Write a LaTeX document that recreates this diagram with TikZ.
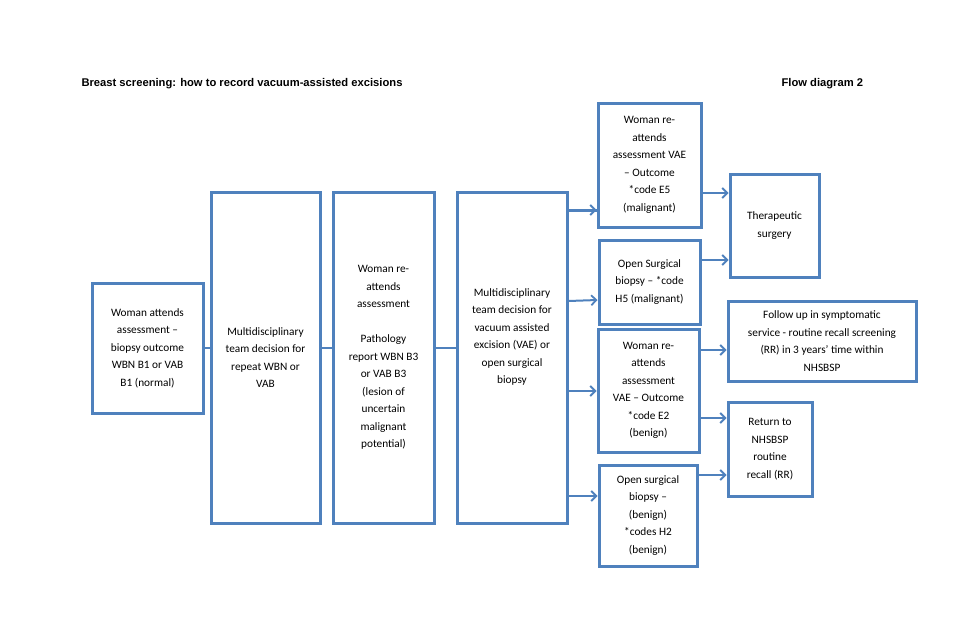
\documentclass[tikz,border=0pt]{standalone}
\usepackage{fontspec}
\setmainfont{Carlito}
\setsansfont{Liberation Sans}
\usetikzlibrary{arrows.meta}
\definecolor{boxblue}{HTML}{4F81BD}
\begin{document}
\begin{tikzpicture}[x=1pt,y=-1pt,
        box/.style={draw=boxblue,line width=3pt,inner sep=2pt,align=center,
                    font=\fontsize{11.3}{17.5}\selectfont},
        link/.style={boxblue,line width=2pt},
        arr/.style={link,-{Straight Barb[length=5pt,width=10pt,line width=1.8pt]}}]
        \useasboundingbox (0,0) rectangle (960,640);
        % title line
        \node[anchor=west,font=\sffamily\bfseries\fontsize{11.2}{13}\selectfont] (title) at (78,84) {Breast screening: how to record vacuum-assisted excisions};
        \node[anchor=west,font=\sffamily\bfseries\fontsize{11.2}{13}\selectfont] (fd) at (778,84) {Flow diagram 2};
        % first columns
        \node[box,minimum width=111,minimum height=130] (A) at (147.5,348) {Woman attends\\assessment --\\biopsy outcome\\WBN B1 or VAB\\B1 (normal)};
        \node[box,minimum width=109,minimum height=331] (B) at (265.5,357.5) {Multidisciplinary\\team decision for\\repeat WBN or\\VAB};
        \node[box,minimum width=101,minimum height=331] (C) at (383.5,357.5) {Woman re-\\attends\\assessment\\[17.5pt]Pathology\\report WBN B3\\or VAB B3\\(lesion of\\uncertain\\malignant\\potential)};
        \node[box,minimum width=110,minimum height=331] (D) at (512,357.5) {};
        \node[font=\fontsize{11.3}{17.5}\selectfont,align=center] (Dtext) at (D.center |- 0,337) {Multidisciplinary\\team decision for\\vacuum assisted\\excision (VAE) or\\open surgical\\biopsy};
        % outcomes
        \node[box,minimum width=103,minimum height=124] (E1) at (649.5,165) {Woman re-\\attends\\assessment VAE\\-- Outcome\\*code E5\\(malignant)};
        \node[box,minimum width=101,minimum height=84] (E2) at (649.5,282) {Open Surgical\\biopsy -- *code\\H5 (malignant)};
        \node[box,minimum width=101,minimum height=123] (E3) at (648.5,390.5) {Woman re-\\attends\\assessment\\VAE -- Outcome\\*code E2\\(benign)};
        \node[box,minimum width=98,minimum height=101] (E4) at (648,515.5) {Open surgical\\biopsy --\\(benign)\\*codes H2\\(benign)};
        % follow-on
        \node[box,minimum width=89,minimum height=103] (F1) at (774.5,225.5) {Therapeutic\\surgery};
        \node[box,minimum width=188,minimum height=80] (F2) at (822,341) {Follow up in symptomatic\\service - routine recall screening\\(RR) in 3 years’ time within\\NHSBSP};
        \node[box,minimum width=84,minimum height=94] (F3) at (770,449) {Return to\\NHSBSP\\routine\\recall (RR)};
        % connectors
        \draw[link] (A) -- (B.west |- A);
        \draw[link] (B.east |- A) -- (C.west |- A);
        \draw[link] (C.east |- A) -- (D.west |- A);
        \draw[link,line width=3pt] (D.east |- 0,210) -- (E1.west |- 0,210);
        \draw[arr] (E1.west |- 0,210) ++(-10,0) -- (E1.west |- 0,210);
        \draw[arr] (D.east |- 0,301) -- (E2.west |- 0,300);
        \draw[arr] (D.east |- 0,391) -- (E3.west |- 0,391);
        \draw[arr] (D.east |- 0,496) -- (E4.west |- 0,496);
        \draw[arr] (E1.east |- 0,193) -- (F1.west |- 0,193);
        \draw[arr] (E2.east |- 0,260) -- (F1.west |- 0,260);
        \draw[arr] (E3.east |- 0,350) -- (F2.west |- 0,350);
        \draw[arr] (E3.east |- 0,418) -- (F3.west |- 0,418);
        \draw[arr] (E4.east |- 0,475) -- (F3.west |- 0,475);
\end{tikzpicture}
\end{document}
